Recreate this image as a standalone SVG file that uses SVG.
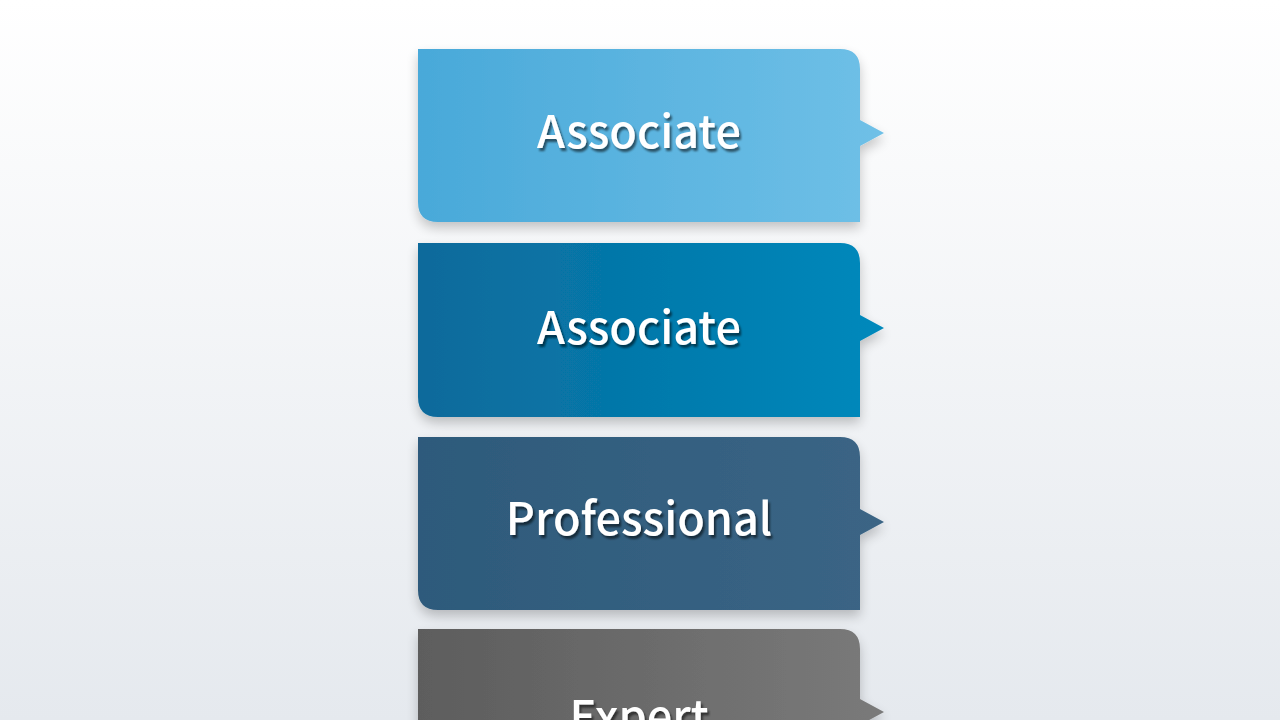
<svg xmlns="http://www.w3.org/2000/svg" width="1280" height="720" viewBox="0 0 1280 720">
<defs>
<linearGradient id="bg" x1="0" y1="0" x2="0" y2="1">
<stop offset="0" stop-color="#ffffff"/>
<stop offset="1" stop-color="#e5e9ee"/>
</linearGradient>
<linearGradient id="g1" x1="0" y1="0" x2="1" y2="0">
<stop offset="0" stop-color="#49a9d9"/>
<stop offset="1" stop-color="#6fc0e7"/>
</linearGradient>
<linearGradient id="g2" x1="0" y1="0" x2="1" y2="0">
<stop offset="0" stop-color="#0a6a9b"/>
<stop offset="1" stop-color="#0089bc"/>
</linearGradient>
<linearGradient id="g3" x1="0" y1="0" x2="1" y2="0">
<stop offset="0" stop-color="#2d5a7b"/>
<stop offset="1" stop-color="#3b6585"/>
</linearGradient>
<linearGradient id="g4" x1="0" y1="0" x2="1" y2="0">
<stop offset="0" stop-color="#5d5d5d"/>
<stop offset="1" stop-color="#7a7a7a"/>
</linearGradient>
<filter id="sh" x="-10%" y="-10%" width="120%" height="130%">
<feGaussianBlur in="SourceAlpha" stdDeviation="6"/>
<feOffset dx="0" dy="6" result="b"/>
<feComponentTransfer><feFuncA type="linear" slope="0.22"/></feComponentTransfer>
<feMerge><feMergeNode/><feMergeNode in="SourceGraphic"/></feMerge>
</filter>
<filter id="tsh" x="-10%" y="-20%" width="120%" height="150%">
<feGaussianBlur in="SourceAlpha" stdDeviation="1"/>
<feOffset dx="2" dy="3"/>
<feComponentTransfer><feFuncA type="linear" slope="0.55"/></feComponentTransfer>
<feMerge><feMergeNode/><feMergeNode in="SourceGraphic"/></feMerge>
</filter>
</defs>
<style>
.lbl{font-family:"Noto Sans CJK SC","Noto Sans",sans-serif;font-weight:500;font-size:45px;fill:#ffffff;text-anchor:middle}
</style>
<rect width="1280" height="720" fill="url(#bg)"/>
<g id="connectors"></g>
<g id="node1" filter="url(#sh)">
<path d="M418 49 H840 Q860 49 860 69 V120 L884 133 L860 146 V222 H438 Q418 222 418 202 Z" fill="url(#g1)"/>
<text class="lbl" x="639" y="148" filter="url(#tsh)">Associate</text>
</g>
<g id="node2" filter="url(#sh)">
<path d="M418 243 H840 Q860 243 860 263 V315 L884 328 L860 341 V417 H438 Q418 417 418 397 Z" fill="url(#g2)"/>
<text class="lbl" x="639" y="344" filter="url(#tsh)">Associate</text>
</g>
<g id="node3" filter="url(#sh)">
<path d="M418 437 H840 Q860 437 860 457 V509 L884 522 L860 535 V610 H438 Q418 610 418 590 Z" fill="url(#g3)"/>
<text class="lbl" x="639" y="535" filter="url(#tsh)">Professional</text>
</g>
<g id="node4" filter="url(#sh)">
<path d="M418 629 H840 Q860 629 860 649 V699 L884 712 L860 725 V800 H438 Q418 800 418 780 Z" fill="url(#g4)"/>
<text class="lbl" x="639" y="733" filter="url(#tsh)">Expert</text>
</g>
</svg>
